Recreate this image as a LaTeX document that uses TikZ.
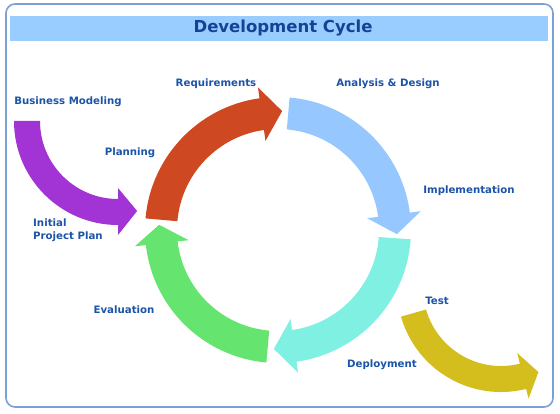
\documentclass[tikz,border=0pt]{standalone}
\usepackage{fontspec}
\setmainfont{DejaVu Sans}
\definecolor{lblblue}{RGB}{28,84,168}
\definecolor{titleblue}{RGB}{22,66,150}
\definecolor{barblue}{RGB}{153,204,255}
\definecolor{framecol}{RGB}{122,160,214}
\definecolor{cred}{RGB}{206,72,34}
\definecolor{cblue}{RGB}{150,200,255}
\definecolor{ccyan}{RGB}{128,240,226}
\definecolor{cgreen}{RGB}{102,228,112}
\definecolor{cpurple}{RGB}{162,52,214}
\definecolor{cyellow}{RGB}{212,190,30}
\begin{document}
\begin{tikzpicture}[x=1pt,y=1pt,
  lbl/.style={font=\fontsize{10.2}{12.5}\selectfont\bfseries, text=lblblue, inner sep=0pt},
  ttl/.style={font=\fontsize{16.5}{18}\selectfont\bfseries, text=titleblue, inner sep=0pt}]
\useasboundingbox (0,0) rectangle (560,413);
\fill[white] (0,0) rectangle (560,413);
\draw[framecol, line width=1.6pt, rounded corners=9pt] (6,6) rectangle (553,409);
\fill[barblue] (10,372) rectangle (548,397);
\node[ttl] (title) at (283,384.5) {Development Cycle};
% cycle arrows
\fill[cred]    [shift={(278,183)}] (175:133pt) arc[start angle=175, end angle=98, radius=133pt] -- (98:144pt) -- (88:119pt) -- (98:90pt) -- (98:101pt) arc[start angle=98, end angle=175, radius=101pt] -- cycle;
\fill[cblue]   [shift={(278,183)}] (85:133pt) arc[start angle=85, end angle=7.5, radius=133pt] -- (7.5:144pt) -- (-2:119pt) -- (7.5:90pt) -- (7.5:101pt) arc[start angle=7.5, end angle=85, radius=101pt] -- cycle;
\fill[ccyan]   [shift={(278,183)}] (-4:133pt) arc[start angle=-4, end angle=-82, radius=133pt] -- (-82:144pt) -- (-92:119pt) -- (-82:90pt) -- (-82:101pt) arc[start angle=-82, end angle=-4, radius=101pt] -- cycle;
\fill[cgreen]  [shift={(278,183)}] (-95:133pt) arc[start angle=-95, end angle=-173.5, radius=133pt] -- (-173.5:144pt) -- (-182.5:119pt) -- (-173.5:90pt) -- (-173.5:101pt) arc[start angle=-173.5, end angle=-95, radius=101pt] -- cycle;
% side arrows
\fill[cpurple] [shift={(118,292)}] (180:104pt) arc[start angle=180, end angle=270, radius=104pt] -- (270:114pt) -- (282:92pt) -- (270:67pt) -- (270:78pt) arc[start angle=270, end angle=180, radius=78pt] -- cycle;
\fill[cyellow] [shift={(501,125)}] (196:104pt) arc[start angle=196, end angle=284, radius=104pt] -- (284:114pt) -- (294:92pt) -- (284:67pt) -- (284:78pt) arc[start angle=284, end angle=196, radius=78pt] -- cycle;
% labels
\node[lbl] (req)  at (216,329) {Requirements};
\node[lbl] (ana)  at (388,329) {Analysis \& Design};
\node[lbl] (bus)  at (68,311)  {Business Modeling};
\node[lbl] (plan) at (130,260) {Planning};
\node[lbl, anchor=west, align=left] (init) at (33,183) {Initial\\Project Plan};
\node[lbl] (impl) at (469,222) {Implementation};
\node[lbl] (test) at (437,112) {Test};
\node[lbl] (dep)  at (382,48)  {Deployment};
\node[lbl] (eval) at (124,103) {Evaluation};
\end{tikzpicture}
\end{document}
